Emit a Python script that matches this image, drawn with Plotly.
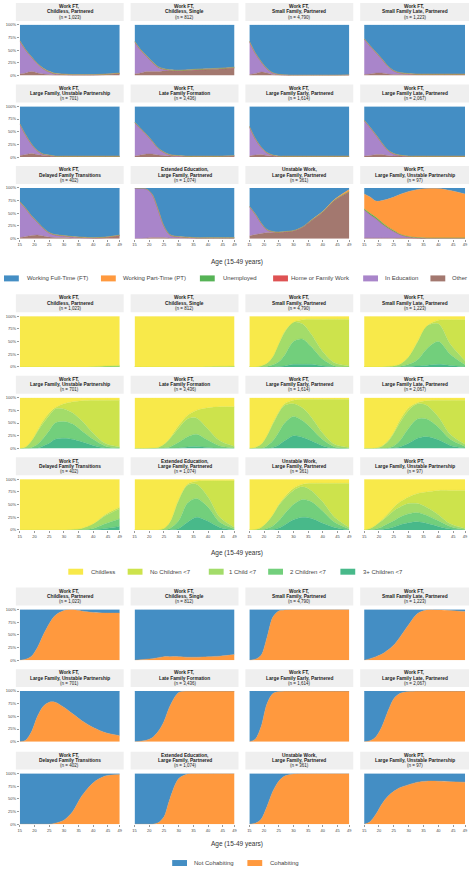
import plotly.graph_objects as go

# ---------------- data ----------------
AGES = [15, 17, 19, 21, 23, 25, 27, 30, 33, 36, 40, 44, 49]
X_TICKS = [15, 20, 25, 30, 35, 40, 45, 49]
Y_TICKS = [0, 25, 50, 75, 100]
Y_TICK_TEXT = ["0%", "25%", "50%", "75%", "100%"]

TITLE_L1 = ["Work FT,", "Work FT,", "Work FT,", "Work FT,",
            "Work FT,", "Work FT,", "Work FT,", "Work FT,",
            "Work FT,", "Extended Education,", "Unstable Work,", "Work PT,"]
TITLE_L2 = ["Childless, Partnered", "Childless, Single", "Small Family, Partnered",
            "Small Family Late, Partnered", "Large Family, Unstable Partnership",
            "Late Family Formation", "Large Family Early, Partnered",
            "Large Family Late, Partnered", "Delayed Family Transitions",
            "Large Family, Partnered", "Large Family, Partnered",
            "Large Family, Unstable Partnership"]
N_LABELS = ["(n = 1,023)", "(n = 812)", "(n = 4,790)", "(n = 1,223)",
            "(n = 701)", "(n = 3,436)", "(n = 1,614)", "(n = 2,067)",
            "(n = 402)", "(n = 1,074)", "(n = 361)", "(n = 97)"]

X_LABEL = "Age (15-49 years)"

# Panel 1: activity status (percent)
ACT_FT = [
    [31, 49, 63, 76, 85.5, 91.5, 95.5, 97, 98, 98, 98, 97, 95],
    [32, 48, 60, 72, 82, 86, 88, 89, 88, 87, 86, 85, 83],
    [32, 55, 72, 86, 94.5, 97.5, 98.5, 99, 99, 99, 99, 99, 98.5],
    [27, 41, 54, 67, 81, 90, 94, 96, 97, 97, 97, 97, 97],
    [34, 56, 74, 87, 94, 96, 98, 98, 98, 98, 98, 98, 98],
    [31, 43, 55, 68, 82, 90, 95, 97, 98, 98, 98, 98, 97],
    [39, 63, 80, 91, 96, 98, 98, 98, 98, 98, 98, 98, 98],
    [27, 41, 56, 72, 86, 93, 96, 98, 98, 98, 98, 98, 98],
    [27, 40, 55, 67, 79, 88, 92, 94, 96, 97, 98, 97, 93],
    [0, 1, 2, 12.5, 42, 75, 92, 96, 97, 98, 98, 98, 98],
    [36, 51, 69, 82, 86, 87, 86, 84, 77, 63.5, 46, 22.5, 3],
    [12, 18, 26, 25, 22, 18, 13, 7, 3, 1, 1, 5, 12],
]
ACT_PT = [
    [0, 0, 0, 0, 0.5, 0.5, 0.5, 0.5, 0.5, 0.5, 0.5, 0.5, 0.5],
    [0, 0, 0, 0, 0, 0, 0, 0, 0, 0, 0, 0, 0],
    [0, 0, 0, 0, 0, 0, 0, 0, 0, 0, 0, 0, 0],
    [0, 0, 0, 0, 0, 0, 0, 0, 0, 0, 0, 0, 0],
    [0, 0, 0, 0, 0, 0, 0, 0, 0, 0, 0, 0, 0],
    [0, 0, 0, 0, 0, 0, 0, 0, 0, 0, 0, 0, 0],
    [0, 0, 0, 0, 0, 0, 0, 0, 0, 0, 0, 0, 0],
    [0, 0, 0, 0, 0, 0, 0, 0, 0, 0, 0, 0, 0],
    [0, 0, 0, 0, 0, 0, 0, 0, 0, 0, 0, 0, 0],
    [0, 0, 0, 0, 0, 0, 0, 0, 0, 0, 0, 0, 0],
    [0, 0, 0, 0, 0, 0, 0, 0, 0, 0.5, 1, 1.5, 4],
    [30, 33, 32, 43, 55, 66, 77, 88, 94, 97.5, 97.5, 93.5, 86.5],
]
ACT_UNEMP = [
    [1, 1, 1, 1, 1, 1, 1, 0.5, 0.5, 0.5, 0.5, 0.5, 0.5],
    [1.5, 1.5, 1.5, 1.5, 1.5, 1.5, 1.5, 1.5, 1.5, 1.5, 1.5, 1.5, 1.5],
    [1, 1, 1, 1, 0.5, 0.5, 0.5, 0.5, 0.5, 0.5, 0.5, 0.5, 0.5],
    [1, 1, 1, 1, 1, 1, 1, 1, 1, 1, 1, 1, 1],
    [1, 1, 1, 1, 1, 1, 1, 1, 1, 1, 1, 1, 1],
    [1, 1, 1, 1, 1, 1, 1, 1, 1, 1, 1, 1, 1],
    [1, 1, 1, 1, 1, 1, 1, 1, 1, 1, 1, 1, 1],
    [1, 1, 1, 1, 1, 1, 1, 1, 1, 1, 1, 1, 1],
    [1, 1, 1, 1, 1, 1, 1, 1, 1, 1, 1, 1, 1],
    [0, 0, 0, 0.5, 1, 1, 1, 1, 1, 1, 1, 1, 1],
    [1, 1, 1, 1, 1, 1, 1, 1, 1, 1, 1, 1, 1],
    [2, 3, 3, 3, 2, 2, 1, 1, 1, 0.5, 0.5, 0.5, 0.5],
]
ACT_HOME = [
    [0, 0, 0, 0, 0, 0, 0, 0, 0, 0, 0, 0, 0],
    [0, 0, 0, 0, 0, 0, 0, 0, 0, 0, 0, 0, 0],
    [0, 0, 0, 0, 0, 0, 0, 0, 0, 0, 0, 0, 0],
    [0, 0, 0, 0, 0, 0, 0, 0, 0, 0, 0, 0, 0],
    [0, 0, 0, 0, 0, 0, 0, 0, 0, 0, 0, 0, 0],
    [0, 0, 0, 0, 0, 0, 0, 0, 0, 0, 0, 0, 0],
    [0, 0, 0, 0, 0, 0, 0, 0, 0, 0, 0, 0, 0],
    [0, 0, 0, 0, 0, 0, 0, 0, 0, 0, 0, 0, 0],
    [0, 0, 0, 0, 0, 0, 0, 0, 0, 0, 0, 0, 0],
    [0, 0, 0, 0, 0, 0, 0, 0, 0, 0, 0, 0, 0],
    [0, 0, 0, 0, 0, 0, 0, 0, 0, 0, 0, 0, 0],
    [0, 0, 0, 0, 0, 0, 0, 0, 0, 0, 0, 0, 0],
]
ACT_EDU = [
    [65, 45, 28, 18, 10, 5, 2, 1, 0, 0, 0, 0, 0],
    [63, 45, 30, 18, 8, 3, 1, 0, 0, 0, 0, 0, 0],
    [65, 40, 20, 8, 3, 1, 0, 0, 0, 0, 0, 0, 0],
    [70, 55, 40, 27, 15, 7, 3, 1, 0, 0, 0, 0, 0],
    [62, 38, 18, 7, 2, 1, 0, 0, 0, 0, 0, 0, 0],
    [66, 52, 38, 25, 13, 6, 2, 1, 0, 0, 0, 0, 0],
    [58, 32, 14, 5, 1, 0, 0, 0, 0, 0, 0, 0, 0],
    [70, 55, 38, 22, 10, 4, 1, 0, 0, 0, 0, 0, 0],
    [70, 55, 38, 25, 15, 8, 5, 3, 2, 1, 0, 0, 0],
    [100, 99, 97, 85, 55, 22, 6, 2, 1, 0, 0, 0, 0],
    [58, 40, 20, 5, 1, 0, 0, 0, 0, 0, 0, 0, 0],
    [57, 47, 38, 28, 20, 13, 7, 2, 0, 0, 0, 0, 0],
]
ACT_OTHER = [
    [3, 5, 8, 5, 3, 2, 1, 1, 1, 1, 1, 2, 4],
    [3, 5, 8, 8, 8, 9, 9, 9, 10, 11, 12, 13, 15],
    [2, 4, 7, 5, 2, 1, 1, 0.5, 0.5, 0.5, 0.5, 0.5, 1],
    [2, 3, 5, 5, 3, 2, 2, 2, 2, 2, 2, 2, 2],
    [3, 5, 7, 5, 3, 2, 1, 1, 1, 1, 1, 1, 1],
    [2, 4, 6, 6, 4, 3, 2, 1, 1, 1, 1, 1, 2],
    [2, 4, 5, 3, 2, 1, 1, 1, 1, 1, 1, 1, 1],
    [2, 3, 5, 5, 3, 2, 2, 1, 1, 1, 1, 1, 1],
    [2, 4, 6, 7, 5, 3, 2, 2, 1, 1, 1, 2, 6],
    [0, 0, 1, 2, 2, 2, 1, 1, 1, 1, 1, 1, 1],
    [5, 8, 10, 12, 12, 12, 13, 15, 22, 35, 52, 75, 92],
    [1, 1, 1, 1, 1, 1, 1, 1, 1, 1, 1, 1, 1],
]

# Panel 2: children (percent)
KID_CHILDLESS = [
    [100, 100, 100, 100, 100, 100, 100, 100, 100, 100, 99.5, 98, 97],
    [100, 100, 100, 100, 100, 100, 100, 100, 100, 100, 99.5, 99, 98.5],
    [100, 100, 98, 93, 80, 55, 30, 12, 7, 6, 6, 6, 6],
    [100, 100, 100, 100, 99, 98, 95, 80, 50, 20, 8, 7, 7],
    [100, 97, 85, 65, 45, 30, 20, 12, 8, 6, 5, 5, 5],
    [100, 100, 100, 99, 98, 92, 80, 55, 35, 25, 20, 18, 18],
    [100, 98, 92, 75, 50, 28, 12, 5, 3, 3, 3, 3, 3],
    [100, 100, 99, 95, 85, 68, 45, 20, 10, 6, 5, 5, 5],
    [100, 100, 100, 100, 100, 100, 100, 100, 99, 97, 88, 70, 55],
    [100, 100, 100, 100, 100, 97, 85, 40, 10, 4, 3, 3, 3],
    [100, 99, 95, 85, 70, 50, 35, 18, 10, 8, 8, 8, 8],
    [100, 97, 90, 80, 68, 55, 45, 35, 28, 25, 22, 22, 22],
]
KID_NONE7 = [
    [0, 0, 0, 0, 0, 0, 0, 0, 0, 0, 0, 0, 0],
    [0, 0, 0, 0, 0, 0, 0, 0, 0, 0, 0, 0, 0],
    [0, 0, 0, 0, 0, 0, 2, 0, 8, 29, 64, 86, 92],
    [0, 0, 0, 0, 0, 0, 0, 0, 1, 0, 7, 48, 81],
    [0, 0, 0, 2, 5, 5, 2, 10, 22, 39, 65, 85, 92],
    [0, 0, 0, 0, 0, 0, 1, 5, 7, 15, 42, 67, 78],
    [0, 0, 0, 0, 2, 2, 3, 7, 17, 35, 67, 89, 95],
    [0, 0, 0, 1, 2, 2, 5, 5, 2, 9, 33, 67, 87],
    [0, 0, 0, 0, 0, 0, 0, 0, 0, 0, 0, 2, 3],
    [0, 0, 0, 0, 0, 0, 0, 2, 2, 6, 32, 72, 92],
    [0, 0, 0, 0, 0, 2, 3, 4, 5, 14, 37, 67, 87],
    [0, 0, 0, 2, 4, 7, 10, 13, 20, 30, 48, 66, 75],
]
KID_ONE = [
    [0, 0, 0, 0, 0, 0, 0, 0, 0, 0, 0.5, 2, 3],
    [0, 0, 0, 0, 0, 0, 0, 0, 0, 0, 0.5, 1, 1.5],
    [0, 0, 2, 6, 16, 35, 45, 38, 30, 25, 15, 6, 2],
    [0, 0, 0, 0, 1, 2, 4, 15, 35, 45, 35, 20, 8],
    [0, 3, 13, 25, 30, 30, 28, 25, 22, 20, 12, 5, 2],
    [0, 0, 0, 1, 2, 7, 16, 28, 35, 32, 22, 10, 3],
    [0, 2, 8, 20, 33, 38, 35, 25, 25, 22, 13, 5, 2],
    [0, 0, 1, 4, 12, 25, 35, 35, 30, 27, 20, 10, 4],
    [0, 0, 0, 0, 0, 0, 0, 0, 1, 3, 9, 16, 20],
    [0, 0, 0, 0, 0, 3, 12, 40, 35, 28, 20, 10, 3],
    [0, 1, 5, 12, 22, 30, 30, 28, 25, 22, 18, 10, 3],
    [0, 3, 8, 12, 16, 20, 20, 20, 18, 16, 12, 5, 2],
]
KID_TWO = [
    [0, 0, 0, 0, 0, 0, 0, 0, 0, 0, 0, 0, 0],
    [0, 0, 0, 0, 0, 0, 0, 0, 0, 0, 0, 0, 0],
    [0, 0, 0, 1, 4, 9, 21, 45, 50, 35, 13, 2, 0],
    [0, 0, 0, 0, 0, 0, 1, 4, 12, 32, 45, 22, 4],
    [0, 0, 2, 7, 15, 25, 32, 33, 30, 22, 12, 4, 1],
    [0, 0, 0, 0, 0, 1, 3, 11, 20, 24, 14, 5, 1],
    [0, 0, 0, 5, 13, 25, 35, 38, 33, 25, 12, 3, 0],
    [0, 0, 0, 0, 1, 4, 12, 30, 38, 35, 25, 12, 3],
    [0, 0, 0, 0, 0, 0, 0, 0, 0, 0, 3, 9, 15],
    [0, 0, 0, 0, 0, 0, 3, 15, 38, 37, 28, 10, 2],
    [0, 0, 0, 3, 7, 14, 22, 30, 35, 33, 24, 10, 2],
    [0, 0, 2, 5, 9, 12, 15, 18, 18, 16, 11, 5, 1],
]
KID_THREE = [
    [0, 0, 0, 0, 0, 0, 0, 0, 0, 0, 0, 0, 0],
    [0, 0, 0, 0, 0, 0, 0, 0, 0, 0, 0, 0, 0],
    [0, 0, 0, 0, 0, 1, 2, 5, 5, 5, 2, 0, 0],
    [0, 0, 0, 0, 0, 0, 0, 1, 2, 3, 5, 3, 0],
    [0, 0, 0, 1, 5, 10, 18, 20, 18, 13, 6, 1, 0],
    [0, 0, 0, 0, 0, 0, 0, 1, 3, 4, 2, 0, 0],
    [0, 0, 0, 0, 2, 7, 15, 25, 22, 15, 5, 0, 0],
    [0, 0, 0, 0, 0, 1, 3, 10, 20, 23, 17, 6, 1],
    [0, 0, 0, 0, 0, 0, 0, 0, 0, 0, 0, 3, 7],
    [0, 0, 0, 0, 0, 0, 0, 3, 15, 25, 17, 5, 0],
    [0, 0, 0, 0, 1, 4, 10, 20, 25, 23, 13, 5, 0],
    [0, 0, 0, 1, 3, 6, 10, 14, 16, 13, 7, 2, 0],
]

# Panel 3: cohabitation (percent)
COH_NOT = [
    [100, 98, 92, 75, 50, 28, 12, 2, 0, 3, 6, 7, 7],
    [100, 99, 98, 97, 95, 93, 93, 93, 94, 94, 93, 92, 89],
    [100, 98, 90, 55, 15, 3, 1, 0, 0, 0, 0, 0, 0],
    [100, 97, 93, 88, 80, 70, 55, 30, 8, 1, 1, 2, 4],
    [100, 97, 80, 50, 30, 22, 22, 32, 45, 58, 72, 82, 88],
    [100, 99, 97, 92, 80, 60, 30, 3, 0, 0, 0, 0, 0],
    [100, 95, 70, 25, 5, 1, 0, 0, 0, 0, 0, 0, 0],
    [100, 98, 90, 70, 40, 15, 5, 1, 0, 0, 0, 0, 0],
    [100, 100, 100, 100, 100, 100, 98, 92, 75, 45, 18, 5, 2],
    [100, 100, 100, 100, 97, 85, 50, 10, 1, 0, 0, 0, 0],
    [100, 98, 90, 65, 35, 15, 5, 1, 0, 0, 0, 0, 0],
    [100, 95, 80, 60, 45, 35, 28, 22, 17, 15, 15, 16, 17],
]
COH_YES = [
    [0, 2, 8, 25, 50, 72, 88, 98, 100, 97, 94, 93, 93],
    [0, 1, 2, 3, 5, 7, 7, 7, 6, 6, 7, 8, 11],
    [0, 2, 10, 45, 85, 97, 99, 100, 100, 100, 100, 100, 100],
    [0, 3, 7, 12, 20, 30, 45, 70, 92, 99, 99, 98, 96],
    [0, 3, 20, 50, 70, 78, 78, 68, 55, 42, 28, 18, 12],
    [0, 1, 3, 8, 20, 40, 70, 97, 100, 100, 100, 100, 100],
    [0, 5, 30, 75, 95, 99, 100, 100, 100, 100, 100, 100, 100],
    [0, 2, 10, 30, 60, 85, 95, 99, 100, 100, 100, 100, 100],
    [0, 0, 0, 0, 0, 0, 2, 8, 25, 55, 82, 95, 98],
    [0, 0, 0, 0, 3, 15, 50, 90, 99, 100, 100, 100, 100],
    [0, 2, 10, 35, 65, 85, 95, 99, 100, 100, 100, 100, 100],
    [0, 5, 20, 40, 55, 65, 72, 78, 83, 85, 85, 84, 83],
]

# legend order (first = first legend entry); stacks are drawn bottom-up in reverse
PANELS = [
    [("Working Full-Time (FT)", "#448ec4", ACT_FT),
     ("Working Part-Time (PT)", "#ff993e", ACT_PT),
     ("Unemployed", "#56b356", ACT_UNEMP),
     ("Home or Family Work", "#de5253", ACT_HOME),
     ("In Education", "#a985ca", ACT_EDU),
     ("Other", "#a3786f", ACT_OTHER)],
    [("Childless", "#f8e94a", KID_CHILDLESS),
     ("No Children <7", "#cde34c", KID_NONE7),
     ("1 Child <7", "#a3dc6a", KID_ONE),
     ("2 Children <7", "#72cf7c", KID_TWO),
     ("3+ Children <7", "#48b98a", KID_THREE)],
    [("Not Cohabiting", "#448ec4", COH_NOT),
     ("Cohabiting", "#ff993e", COH_YES)],
]

# ---------------- layout geometry (pixels) ----------------
W, H = 474, 869
COL_X = [(18, 119), (134, 235), (250, 351), (366, 468)]
ROW_TOPS = [[22, 104, 186], [315, 397, 479], [610, 692, 775]]
PLOT_H = 51
XLABEL_Y = [260, 553, 846]
LEGEND_Y = [277, 572, 865]
LEGEND_POS = [
    [(2, 23), (100, 120), (200, 221), (274, 290), (365, 385), (433, 453)],
    [(67, 88), (127, 148), (209, 227), (269, 289), (342, 363)],
    [(172, 192), (248, 269)],
]
FONT = "Liberation Sans, Arial, sans-serif"


def px_x(v):
    return v / W


def px_y(v):
    return 1 - v / H


fig = go.Figure()
layout = dict(width=W, height=H, margin=dict(l=0, r=0, t=0, b=0),
              paper_bgcolor="white", plot_bgcolor="white",
              showlegend=False, font=dict(family=FONT, color="#333"))
shapes, annotations = [], []

for p, series in enumerate(PANELS):
    for r in range(3):
        for c in range(4):
            i = r * 4 + c
            k = p * 12 + i + 1
            xs = "" if k == 1 else str(k)
            top = ROW_TOPS[p][r]
            x0, x1 = COL_X[c]
            first = True
            for name, color, data in reversed(series):
                fig.add_trace(go.Scatter(
                    x=AGES, y=data[i], mode="lines", name=name,
                    line=dict(width=0.4, color=color, shape="spline", smoothing=0.9),
                    fillcolor=color, stackgroup=f"g{k}",
                    groupnorm="percent" if first else None,
                    xaxis="x" + xs, yaxis="y" + xs, hoverinfo="skip"))
                first = False
            layout["xaxis" + xs] = dict(
                domain=[px_x(x0), px_x(x1)], range=[15, 49], anchor="y" + xs,
                tickvals=X_TICKS, showticklabels=(r == 2),
                ticks="outside" if r == 2 else "", ticklen=2, tickwidth=0.5,
                tickcolor="#999", tickfont=dict(size=4, color="#444"),
                showgrid=False, zeroline=False, showline=False)
            layout["yaxis" + xs] = dict(
                domain=[px_y(top + PLOT_H), px_y(top)], range=[0, 100],
                anchor="x" + xs, tickvals=Y_TICKS, ticktext=Y_TICK_TEXT,
                showticklabels=(c == 0), ticks="outside" if c == 0 else "",
                ticklen=2, tickwidth=0.5, tickcolor="#999",
                tickfont=dict(size=4, color="#444"),
                showgrid=False, zeroline=False, showline=False)
            # title box
            shapes.append(dict(type="rect", xref="paper", yref="paper",
                               x0=px_x(x0 - 4), x1=px_x(x1 + 4),
                               y0=px_y(top - 4), y1=px_y(top - 22),
                               fillcolor="#efefef", line=dict(width=0), layer="below"))
            cx = px_x((x0 + x1) / 2)
            for txt, yy, sz, bold in [(TITLE_L1[i], top - 18.3, 4.8, True),
                                      (TITLE_L2[i], top - 13, 4.8, True),
                                      (N_LABELS[i], top - 7.8, 4.5, False)]:
                annotations.append(dict(
                    text=f"<b>{txt}</b>" if bold else txt, x=cx, y=px_y(yy),
                    xref="paper", yref="paper", xanchor="center", yanchor="middle",
                    showarrow=False, font=dict(size=sz, color="#222")))
    # x-axis label
    annotations.append(dict(text=X_LABEL, x=0.5, y=px_y(XLABEL_Y[p]),
                            xref="paper", yref="paper", xanchor="center",
                            yanchor="middle", showarrow=False,
                            font=dict(size=6.5, color="#333")))
    # legend (keys + labels)
    for (name, color, _), (sx, tx) in zip(series, LEGEND_POS[p]):
        ly = LEGEND_Y[p]
        shapes.append(dict(type="rect", xref="paper", yref="paper",
                           x0=px_x(sx), x1=px_x(sx + 15),
                           y0=px_y(ly + 3), y1=px_y(ly - 3),
                           fillcolor=color, line=dict(width=0)))
        annotations.append(dict(text=name, x=px_x(tx), y=px_y(ly),
                                xref="paper", yref="paper", xanchor="left",
                                yanchor="middle", showarrow=False,
                                font=dict(size=6, color="#444")))

layout["shapes"] = shapes
layout["annotations"] = annotations
fig.update_layout(**layout)
fig.write_html("out.html")
